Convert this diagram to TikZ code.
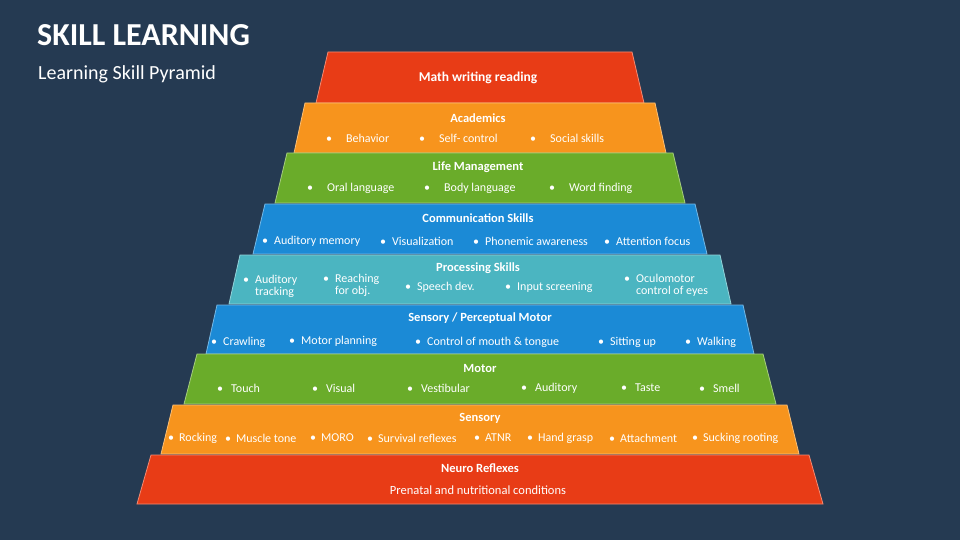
\documentclass[tikz,border=0pt]{standalone}
\usepackage{fontspec}
\setmainfont{Carlito}
\definecolor{bg}{HTML}{253A52}
\definecolor{cred}{HTML}{E83C16}
\definecolor{corange}{HTML}{F7941D}
\definecolor{cgreen}{HTML}{6AAC2A}
\definecolor{cblue}{HTML}{1B8AD6}
\definecolor{cteal}{HTML}{4BB5C1}
\tikzset{
  ttl/.style={text=white,font=\bfseries\fontsize{12.5}{14}\selectfont,inner sep=0pt},
  itm/.style={text=white,font=\fontsize{12}{14}\selectfont,inner sep=0pt,anchor=west,align=left},
}
% \lay{name}{ytop}{ybot}{lefttop}{leftbot}{color}
\newcommand\lay[6]{%
  \path[fill=#6,draw=#6!60!white,line width=0.8pt]
    (#4,-#2) -- ({960-#4},-#2) -- ({960-#5},-#3) -- (#5,-#3) -- cycle;
  \coordinate (#1) at (480,{-(#2+#3)/2});}
% \it{x}{y}{gap}{text}
\newcommand\bitem[5]{\node[itm] (#1) at (#2,-#3) {•\hspace{#4pt}#5};}
\begin{document}
\begin{tikzpicture}[x=1pt,y=1pt]
\fill[bg] (0,0) rectangle (960,-540);
\useasboundingbox (0,0) rectangle (960,-540);
\node[anchor=west,text=white,font=\bfseries\fontsize{32}{36}\selectfont,inner sep=0pt] (t) at (37,-35) {SKILL LEARNING};
\node[anchor=west,text=white,font=\fontsize{20}{24}\selectfont,inner sep=0pt] (st) at (38,-74) {Learning Skill Pyramid};
\lay{L1}{52}{103}{328}{316}{cred}
\lay{L2}{103}{153}{305}{294}{corange}
\lay{L3}{153}{203}{287}{275}{cgreen}
\lay{L4}{204}{254}{265}{253}{cblue}
\lay{L5}{255}{304}{240}{229}{cteal}
\lay{L6}{305}{354}{217}{206}{cblue}
\lay{L7}{354}{404}{197}{184}{cgreen}
\lay{L8}{405}{454}{173}{161}{corange}
\lay{L9}{455}{504}{151}{137}{cred}
\node[ttl,font=\bfseries\fontsize{13.5}{15}\selectfont] (a1) at (478,-78) {Math writing reading};
\node[ttl] (a2) at (478,-118) {Academics};
\bitem{a21}{326}{138}{14}{Behavior}
\bitem{a22}{419}{138}{14}{Self- control}
\bitem{a23}{530}{138}{14}{Social skills}
\node[ttl] (a3) at (478,-167) {Life Management};
\bitem{a31}{307}{188}{14}{Oral language}
\bitem{a32}{424}{188}{14}{Body language}
\bitem{a33}{549}{188}{14}{Word finding}
\node[ttl] (a4) at (478,-218) {Communication Skills};
\bitem{a41}{262}{241}{6}{Auditory memory}
\bitem{a42}{380}{241}{6}{Visualization}
\bitem{a43}{473}{241}{6}{Phonemic awareness}
\bitem{a44}{604}{241}{6}{Attention focus}
\node[ttl] (a5) at (478,-268) {Processing Skills};
\node[itm] (a51) at (243,-287) {•\hspace{6pt}\begin{tabular}[t]{@{}l@{}}Auditory\\[-2pt]tracking\end{tabular}};
\node[itm,anchor=north west] (a52) at (323,-272) {•\hspace{6pt}\begin{tabular}[t]{@{}l@{}}Reaching\\[-2pt]for obj.\end{tabular}};
\bitem{a53}{405}{287}{6}{Speech dev.}
\bitem{a54}{505}{287}{6}{Input screening}
\node[itm,anchor=north west] (a55) at (624,-272) {•\hspace{6pt}\begin{tabular}[t]{@{}l@{}}Oculomotor\\[-2pt]control of eyes\end{tabular}};
\node[ttl] (a6) at (480,-318) {Sensory / Perceptual Motor};
\bitem{a61}{211}{342}{6}{Crawling}
\bitem{a62}{289}{341}{6}{Motor planning}
\bitem{a63}{415}{342}{6}{Control of mouth \& tongue}
\bitem{a64}{598}{342}{6}{Sitting up}
\bitem{a65}{685}{342}{6}{Walking}
\node[ttl] (a7) at (480,-368) {Motor};
\bitem{a71}{217}{388}{8}{Touch}
\bitem{a72}{312}{388}{8}{Visual}
\bitem{a73}{407}{388}{8}{Vestibular}
\bitem{a74}{521}{388}{8}{Auditory}
\bitem{a75}{621}{388}{8}{Taste}
\bitem{a76}{699}{388}{8}{Smell}
\node[ttl] (a8) at (480,-418) {Sensory};
\bitem{a81}{168}{438}{5}{Rocking}
\bitem{a82}{225}{438}{5}{Muscle tone}
\bitem{a83}{310}{438}{5}{MORO}
\bitem{a84}{367}{438}{5}{Survival reflexes}
\bitem{a85}{474}{438}{5}{ATNR}
\bitem{a86}{527}{438}{5}{Hand grasp}
\bitem{a87}{609}{438}{5}{Attachment}
\bitem{a88}{692}{438}{5}{Sucking rooting}
\node[ttl] (a9) at (480,-468) {Neuro Reflexes};
\node[ttl,font=\fontsize{12.5}{14}\selectfont] (a91) at (478,-490) {Prenatal and nutritional conditions};
\end{tikzpicture}
\end{document}
